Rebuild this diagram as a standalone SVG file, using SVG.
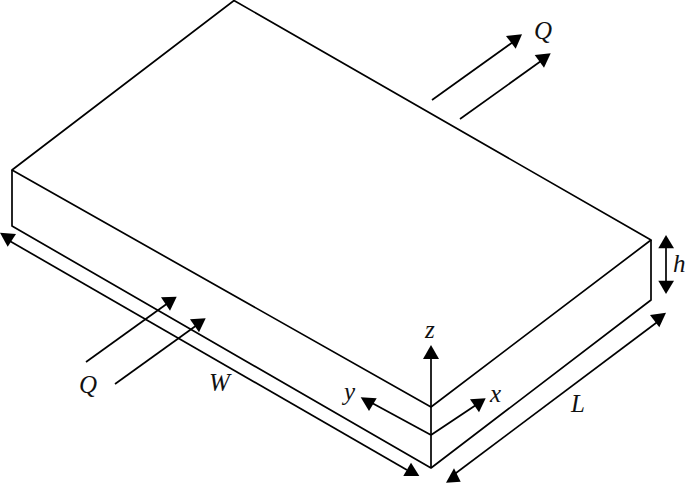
<svg xmlns="http://www.w3.org/2000/svg" width="685" height="483" viewBox="0 0 685 483">
<style>
.l{fill:none;stroke:#000;stroke-width:1.7;stroke-linejoin:round}
.h{fill:#000;stroke:none}
text{font-family:"Liberation Serif","Times New Roman",serif;font-style:italic;font-size:25px;fill:#111}
</style>
<rect width="685" height="483" fill="#fff"/>
<g id="slab">
<path class="l" d="M234 0.500L651 240L431 407L12 170Z"/>
<path class="l" d="M12 170V226L431 468L651 300V240"/>
<path class="l" d="M431 407V468"/>
</g>
<g id="connectors">
<path class="l" d="M431 435L372 403"/>
<path class="l" d="M431 435L476 405"/>
<path class="l" d="M431 407V355"/>
<path class="l" d="M8 240L407 470"/>
<path class="l" d="M452 476L660 320"/>
<path class="l" d="M86 362L168 303"/>
<path class="l" d="M115 384L197 325"/>
<path class="l" d="M432 100L513 42"/>
<path class="l" d="M460 119L541 61"/>
<path class="l" d="M666 245V285"/>
<g id="heads">
<polygon class="h" points="431,345 423,359 439,359"/>
<polygon class="h" points="360.700,397.300 376.700,398.300 369,411"/>
<polygon class="h" points="485.700,398.300 470,399.300 479,412.300"/>
<polygon class="h" points="0,232.700 16,234 7.700,246.700"/>
<polygon class="h" points="411,462.700 403.300,476 419.300,476"/>
<polygon class="h" points="446,482.700 454,468.300 460.700,481.700"/>
<polygon class="h" points="666,312.700 650,315 659.300,327.300"/>
<polygon class="h" points="176.700,296.700 161,297.300 170,310.700"/>
<polygon class="h" points="205.700,318.300 190,319.300 199,332.300"/>
<polygon class="h" points="522,34.300 506,36 515.700,48.700"/>
<polygon class="h" points="550.700,53.300 534.700,55 544,67.700"/>
<polygon class="h" points="666,235 658.300,248.300 674,248.300"/>
<polygon class="h" points="666,294 658.300,280.700 674,280.700"/>
</g>
</g>
<g id="labels">
<text x="79" y="393">Q</text>
<text x="209" y="391">W</text>
<text x="534" y="39">Q</text>
<text x="673" y="272">h</text>
<text x="425" y="338">z</text>
<text x="344" y="400">y</text>
<text x="490" y="402">x</text>
<text x="571" y="412">L</text>
</g>
</svg>
